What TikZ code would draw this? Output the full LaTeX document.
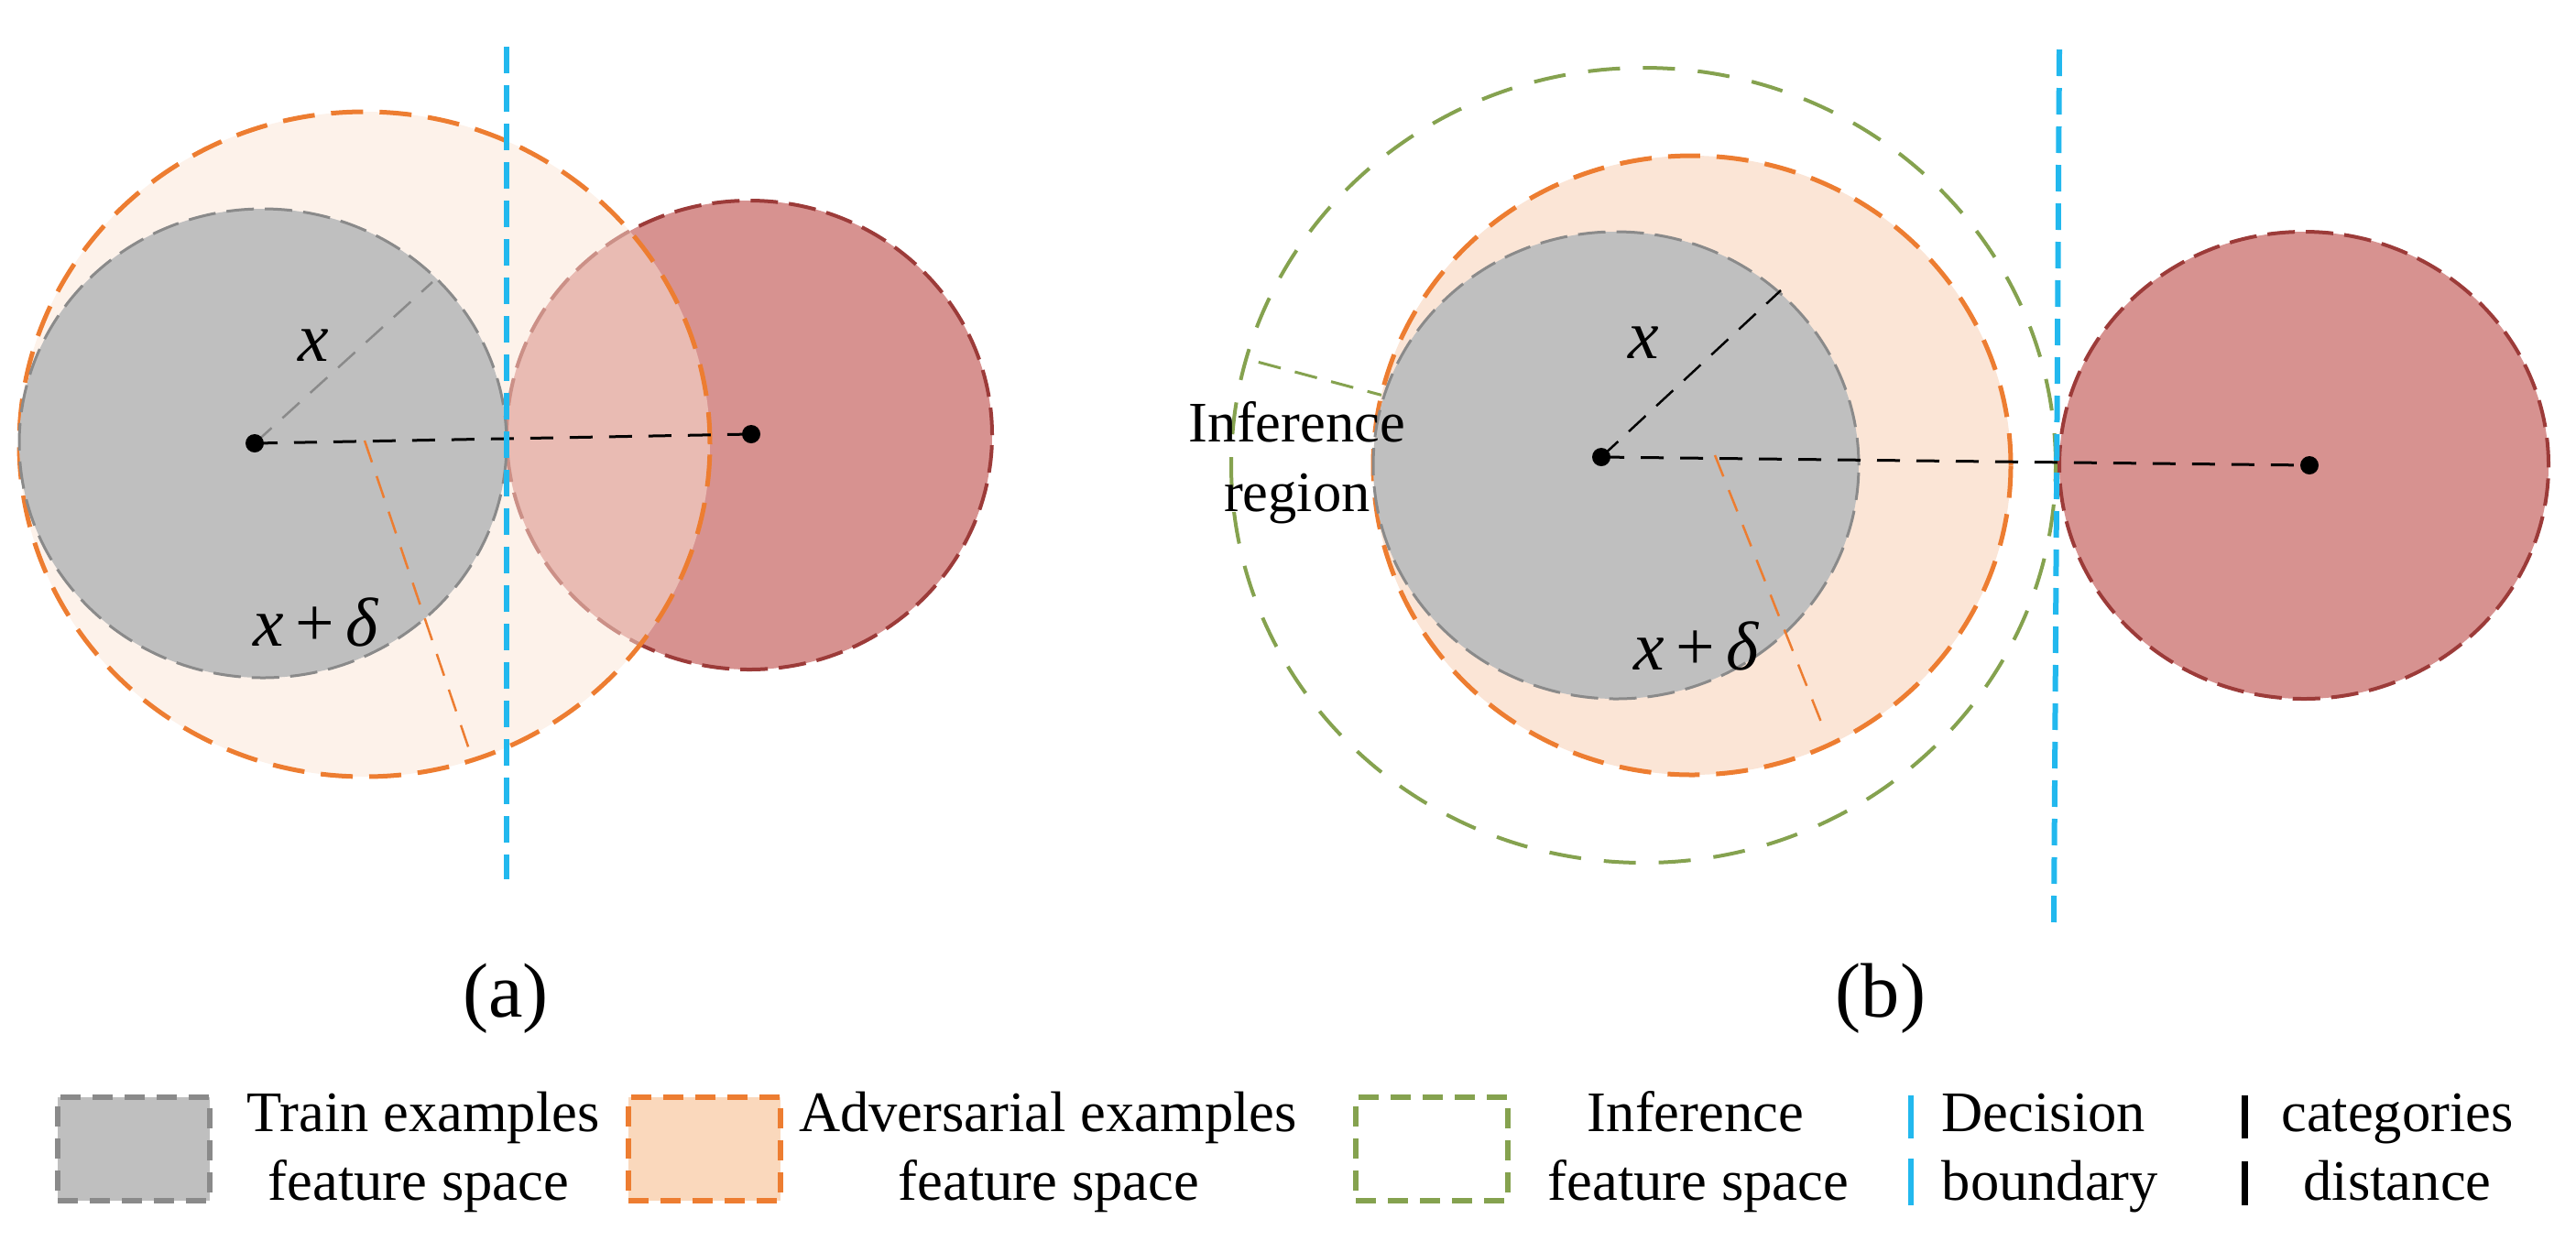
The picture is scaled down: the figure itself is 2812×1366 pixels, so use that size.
\documentclass[tikz,border=0pt]{standalone}
\usepackage{fontspec}
\setmainfont{Liberation Serif}
\usetikzlibrary{shapes.geometric}
\definecolor{grayfill}{HTML}{BFBFBF}
\definecolor{grayline}{HTML}{8A8A8A}
\definecolor{redfill}{HTML}{D79290}
\definecolor{redline}{HTML}{9C3B39}
\definecolor{orangeline}{HTML}{ED7D31}
\definecolor{orangefill}{HTML}{FBE5D6}
\definecolor{legorange}{HTML}{FAD8BC}
\definecolor{greenline}{HTML}{85A24F}
\definecolor{blueline}{HTML}{22B8EE}
\begin{document}
\begin{tikzpicture}[x=0.1mm,y=-0.1mm,
  region/.style={ellipse, inner sep=0pt, outer sep=0pt},
  trainc/.style={region, fill=grayfill, draw=grayline, line width=0.3mm, dash pattern=on 3mm off 1.2mm},
  advc/.style={region, fill=orangefill, draw=orangeline, line width=0.5mm, dash pattern=on 3.5mm off 1.8mm},
  infc/.style={region, draw=greenline, line width=0.4mm, dash pattern=on 3.5mm off 2.5mm},
  catc/.style={region, fill=redfill, draw=redline, line width=0.4mm, dash pattern=on 3mm off 1.2mm},
  distline/.style={black, line width=0.3mm, dash pattern=on 2.5mm off 1.8mm},
  radline/.style={line width=0.25mm, dash pattern=on 2.5mm off 1.6mm},
  boundary/.style={blueline, line width=0.6mm, dash pattern=on 2.9mm off 1.3mm},
  dot/.style={circle, fill=black, inner sep=0pt, minimum size=2mm},
  lab/.style={font=\fontsize{21.5pt}{24pt}\selectfont, anchor=base, inner sep=0pt},
  txt/.style={font=\fontsize{17.8pt}{21pt}\selectfont, anchor=base, inner sep=0pt},
  subcap/.style={font=\fontsize{24pt}{28pt}\selectfont, anchor=base, inner sep=0pt},
  legbox/.style={rectangle, inner sep=0pt, minimum width=16.6mm, minimum height=11.3mm, line width=0.6mm, dash pattern=on 2.2mm off 1.3mm},
  legbar/.style={line width=0.6mm}
]
\useasboundingbox (0,0) rectangle (2812,1366);

% ---------------- (a) ----------------
\node[catc, minimum width=53mm, minimum height=51.2mm] (catA) at (818,475) {};
\node[advc, fill opacity=0.5, minimum width=75.4mm, minimum height=72.6mm] (advA) at (398,485) {};
\node[trainc, minimum width=53.2mm, minimum height=51.2mm] (trainA) at (287,484) {};
\coordinate (cA) at (278,484);
\coordinate (rA) at (820,474);
\coordinate (xA) at (472,308);
\coordinate (dA1) at (398,481);
\coordinate (dA2) at (515,827);
\draw[radline, grayline] (cA) -- (xA);
\draw[radline, orangeline] (dA1) -- (dA2);
\draw[distline] (cA) -- (rA);
\node[dot] (pA) at (cA) {};
\node[dot] (qA) at (rA) {};
\coordinate (bA1) at (553,51);
\coordinate (bA2) at (553,960);
\draw[boundary] (bA1) -- (bA2);
\node[lab] (lxA) at (342,394) {\textit{x}};
\node[lab] (lxdA) at (345,705) {\textit{x}\,+\,\textit{δ}};
\node[subcap] (capA) at (552,1110) {(a)};

% ---------------- (b) ----------------
\node[infc, minimum width=90mm, minimum height=86.8mm] (infB) at (1794,508) {};
\draw[radline, greenline, line width=0.3mm] (infB.center) -- (infB.165);
\node[advc, minimum width=69.6mm, minimum height=67.6mm] (advB) at (1847,508) {};
\node[trainc, minimum width=53mm, minimum height=51mm] (trainB) at (1764,508) {};
\coordinate (cB) at (1748,499);
\coordinate (xB) at (1944,317);
\coordinate (dB1) at (1872,497);
\coordinate (dB2) at (1993,801);
\draw[radline, black] (cB) -- (xB);
\draw[radline, orangeline] (dB1) -- (dB2);
\node[catc, minimum width=53.4mm, minimum height=51mm] (catB) at (2515,508) {};
\coordinate (rB) at (2521,508);
\draw[distline] (cB) -- (rB);
\node[dot] (pB) at (cB) {};
\node[dot] (qB) at (rB) {};
\coordinate (bB1) at (2248,54);
\coordinate (bB2) at (2242,1013);
\draw[boundary] (bB1) -- (bB2);
\node[lab] (lxB) at (1794,391) {\textit{x}};
\node[lab] (lxdB) at (1852,731) {\textit{x}\,+\,\textit{δ}};
\node[txt] (infl1) at (1416,482) {Inference};
\node[txt] (infl2) at (1416,558) {region};
\node[subcap] (capB) at (2053,1110) {(b)};

% ---------------- legend ----------------
\node[legbox, fill=grayfill, draw=grayline] (lg1) at (146,1254.5) {};
\node[txt] (lt1a) at (462,1235) {Train examples};
\node[txt] (lt1b) at (457,1310) {feature space};
\node[legbox, fill=legorange, draw=orangeline] (lg2) at (769,1254.5) {};
\node[txt] (lt2a) at (1144,1235) {Adversarial examples};
\node[txt] (lt2b) at (1145,1310) {feature space};
\node[legbox, fill=white, draw=greenline] (lg3) at (1563,1254.5) {};
\node[txt] (lt3a) at (1851,1235) {Inference};
\node[txt] (lt3b) at (1854,1310) {feature space};
\coordinate (bl1) at (2086,1196);
\coordinate (bl2) at (2086,1243);
\coordinate (bl3) at (2086,1265);
\coordinate (bl4) at (2086,1316);
\draw[legbar, blueline] (bl1) -- (bl2);
\draw[legbar, blueline] (bl3) -- (bl4);
\node[txt, anchor=base west] (lt4a) at (2119,1235) {Decision};
\node[txt, anchor=base west] (lt4b) at (2119,1310) {boundary};
\coordinate (kl1) at (2450,1196);
\coordinate (kl2) at (2450,1243);
\coordinate (kl3) at (2450,1268);
\coordinate (kl4) at (2450,1316);
\draw[legbar, black, line width=0.7mm] (kl1) -- (kl2);
\draw[legbar, black, line width=0.7mm] (kl3) -- (kl4);
\node[txt] (lt5a) at (2617,1235) {categories};
\node[txt] (lt5b) at (2617,1310) {distance};
\end{tikzpicture}
\end{document}
